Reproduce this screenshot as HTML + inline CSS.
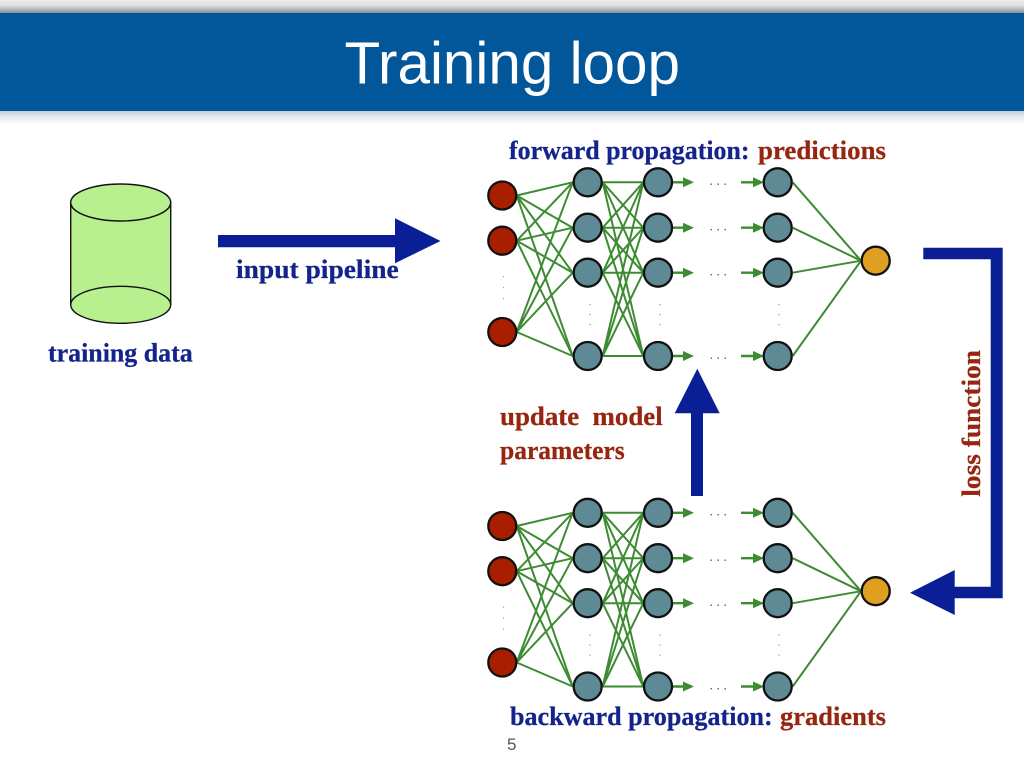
<!DOCTYPE html>
<html><head><meta charset="utf-8"><title>Training loop</title>
<style>html,body{margin:0;padding:0;background:#fff;width:1024px;height:768px;overflow:hidden}svg{display:block}
.b{font-family:"Liberation Serif",serif;font-weight:bold;font-size:26px;stroke-width:.25px}
.n{fill:#14248c;stroke:#14248c}.r{fill:#96260f;stroke:#96260f}</style></head>
<body>
<svg width="1024" height="768" viewBox="0 0 1024 768" xmlns="http://www.w3.org/2000/svg">
<defs>
<linearGradient id="t" x1="0" y1="0" x2="0" y2="1"><stop offset="0" stop-color="#ececec"/><stop offset=".45" stop-color="#dcdcdc"/><stop offset="1" stop-color="#8e8e8e"/></linearGradient>
<linearGradient id="u" x1="0" y1="0" x2="0" y2="1"><stop offset="0" stop-color="#c4ced8"/><stop offset=".5" stop-color="#ebeff2"/><stop offset="1" stop-color="#fff"/></linearGradient>
<g id="net">
<g stroke="#3d8b32" stroke-width="2" fill="none">
<path d="M516.7 195.5L572.7 182.3M516.7 195.5L572.7 227.7M516.7 195.5L572.7 272.7M516.7 195.5L572.7 356"/>
<path d="M516.7 240.7L572.7 182.3M516.7 240.7L572.7 227.7M516.7 240.7L572.7 272.7M516.7 240.7L572.7 356"/>
<path d="M516.7 332L572.7 182.3M516.7 332L572.7 227.7M516.7 332L572.7 272.7M516.7 332L572.7 356"/>
<path d="M602.7 182.3L643.3 182.3M602.7 182.3L643.3 227.7M602.7 182.3L643.3 272.7M602.7 182.3L643.3 356"/>
<path d="M602.7 227.7L643.3 182.3M602.7 227.7L643.3 227.7M602.7 227.7L643.3 272.7M602.7 227.7L643.3 356"/>
<path d="M602.7 272.7L643.3 182.3M602.7 272.7L643.3 227.7M602.7 272.7L643.3 272.7M602.7 272.7L643.3 356"/>
<path d="M602.7 356L643.3 182.3M602.7 356L643.3 227.7M602.7 356L643.3 272.7M602.7 356L643.3 356"/>
<path d="M792.7 182.3L861 260.7M792.7 227.7L861 260.7M792.7 272.7L861 260.7M792.7 356L861 260.7"/>
<path stroke-width="2.4" d="M672 182.3H686M672 227.7H686M672 272.7H686M672 356H686M741 182.3H756M741 227.7H756M741 272.7H756M741 356H756"/>
</g>
<g fill="#3d8b32">
<path d="M683 177.3L694 182.3L683 187.3ZM683 222.7L694 227.7L683 232.7ZM683 267.7L694 272.7L683 277.7ZM683 351L694 356L683 361Z"/>
<path d="M753 177.3L764 182.3L753 187.3ZM753 222.7L764 227.7L753 232.7ZM753 267.7L764 272.7L753 277.7ZM753 351L764 356L753 361Z"/>
</g>
<g fill="#555">
<path d="M710.5 183.5h1.4v1.4h-1.4zM717.5 183.5h1.4v1.4h-1.4zM724.5 183.5h1.4v1.4h-1.4zM710.5 229h1.4v1.4h-1.4zM717.5 229h1.4v1.4h-1.4zM724.5 229h1.4v1.4h-1.4zM710.5 274h1.4v1.4h-1.4zM717.5 274h1.4v1.4h-1.4zM724.5 274h1.4v1.4h-1.4zM710.5 357.5h1.4v1.4h-1.4zM717.5 357.5h1.4v1.4h-1.4zM724.5 357.5h1.4v1.4h-1.4z"/>
<path fill="#999" d="M503 276h1.2v1.2h-1.2zM503 287h1.2v1.2h-1.2zM503 298h1.2v1.2h-1.2zM589.5 304h1.2v1.2h-1.2zM589.5 314h1.2v1.2h-1.2zM589.5 324h1.2v1.2h-1.2zM659.5 304h1.2v1.2h-1.2zM659.5 314h1.2v1.2h-1.2zM659.5 324h1.2v1.2h-1.2zM778.5 304h1.2v1.2h-1.2zM778.5 314h1.2v1.2h-1.2zM778.5 324h1.2v1.2h-1.2z"/>
</g>
<g stroke="#111" stroke-width="2.3">
<g fill="#aa1e00"><circle cx="502.3" cy="195.5" r="14"/><circle cx="502.3" cy="240.7" r="14"/><circle cx="502.3" cy="332" r="14"/></g>
<g fill="#5e8a96">
<circle cx="587.7" cy="182.3" r="14"/><circle cx="587.7" cy="227.7" r="14"/><circle cx="587.7" cy="272.7" r="14"/><circle cx="587.7" cy="356" r="14"/>
<circle cx="658" cy="182.3" r="14"/><circle cx="658" cy="227.7" r="14"/><circle cx="658" cy="272.7" r="14"/><circle cx="658" cy="356" r="14"/>
<circle cx="777.7" cy="182.3" r="14"/><circle cx="777.7" cy="227.7" r="14"/><circle cx="777.7" cy="272.7" r="14"/><circle cx="777.7" cy="356" r="14"/>
</g>
<circle cx="875.7" cy="260.7" r="14" fill="#df9f20"/>
</g>
</g>
</defs>

<rect x="0" y="0" width="1024" height="13" fill="url(#t)"/>
<rect x="0" y="13" width="1024" height="98" fill="#02569a"/>
<rect x="0" y="111" width="1024" height="14" fill="url(#u)"/>
<text x="344.5" y="83.5" font-family="'Liberation Sans',sans-serif" font-size="59" fill="#fff" textLength="335.5" lengthAdjust="spacingAndGlyphs">Training loop</text>

<!-- cylinder -->
<path d="M70.7 202.5V304.8A50 18.5 0 0 0 170.7 304.8V202.5Z" fill="#b9f08f" stroke="#111" stroke-width="1.4"/>
<ellipse cx="120.7" cy="202.5" rx="50" ry="18.5" fill="#b9f08f" stroke="#111" stroke-width="1.4"/>
<path d="M70.7 304.8A50 18.5 0 0 1 170.7 304.8" fill="none" stroke="#111" stroke-width="1.4"/>
<text class="b n" x="48" y="361.7" textLength="144.7" lengthAdjust="spacingAndGlyphs">training data</text>

<!-- arrows -->
<path d="M218 235H395V218.3L440.5 241L395 263.3V247.3H218Z" fill="#0a1f96"/>
<path d="M691 496V413.3H674.7L697.3 368.7L719.7 413.3H703V496Z" fill="#0a1f96"/>
<path d="M923.3 247.7H1002.7V598.3H954.7V615L910 592.7L954.7 570V586.7H990.7V259.3H923.3Z" fill="#0a1f96"/>

<text class="b n" x="236" y="278" textLength="162.7" lengthAdjust="spacingAndGlyphs">input pipeline</text>
<text class="b r" x="500" y="425" textLength="162.7" lengthAdjust="spacingAndGlyphs">update&#160; model</text>
<text class="b r" x="500" y="459" textLength="124.7" lengthAdjust="spacingAndGlyphs">parameters</text>
<text class="b r" transform="translate(980 496.7) rotate(-90)" x="0" y="0" textLength="146.7" lengthAdjust="spacingAndGlyphs">loss function</text>

<text class="b n" x="509" y="159" textLength="240.5" lengthAdjust="spacingAndGlyphs">forward propagation:</text>
<text class="b r" x="758" y="159" textLength="128" lengthAdjust="spacingAndGlyphs">predictions</text>

<use href="#net"/>
<use href="#net" y="330.5"/>

<text class="b n" x="510" y="725" textLength="262.7" lengthAdjust="spacingAndGlyphs">backward propagation:</text>
<text class="b r" x="780" y="725" textLength="106" lengthAdjust="spacingAndGlyphs">gradients</text>
<text x="507" y="750" font-family="'Liberation Sans',sans-serif" font-size="17" fill="#555">5</text>
</svg>
</body></html>
